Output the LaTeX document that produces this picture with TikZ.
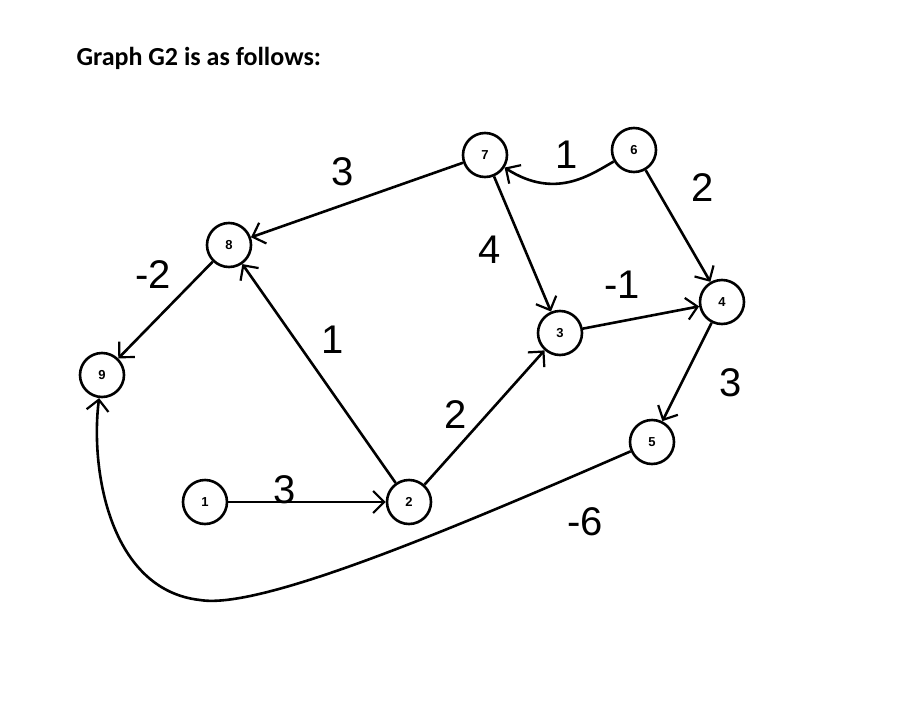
\documentclass[tikz,border=0pt]{standalone}
\usepackage{fontspec}
\setmainfont{Liberation Sans}
\newfontfamily\titlefont{Carlito}
\usetikzlibrary{arrows.meta}
\begin{document}
\begin{tikzpicture}[x=1pt,y=-1pt,
  vtx/.style={circle,draw,line width=2.6pt,minimum size=44pt,inner sep=0pt,font=\fontsize{13}{13}\selectfont\bfseries},
  edge/.style={line width=2.6pt,-{Straight Barb[length=11pt,width=22pt,line width=2.2pt]}},
  wlab/.style={font=\fontsize{40}{40}\selectfont}]
\useasboundingbox (0,0) rectangle (910,712);
\node[anchor=west,font=\titlefont\fontsize{26}{26}\selectfont\bfseries] (title) at (73,58) {Graph G2 is as follows:};
\node[vtx] (n7) at (485,155) {7};
\node[vtx] (n6) at (634,150) {6};
\node[vtx] (n8) at (229,245) {8};
\node[vtx] (n9) at (102,375) {9};
\node[vtx] (n4) at (722,302) {4};
\node[vtx] (n3) at (560,333) {3};
\node[vtx] (n5) at (652,442) {5};
\node[vtx] (n1) at (205,502) {1};
\node[vtx] (n2) at (409,502) {2};
\draw[edge] (n7) -- (n8);
\draw[edge] (n6) .. controls (590,175) and (555,200) .. (n7);
\draw[edge] (n6) -- (n4);
\draw[edge] (n7) -- (n3);
\draw[edge] (n3) -- (n4);
\draw[edge] (n8) -- (n9);
\draw[edge] (n2) -- (n8);
\draw[edge] (n2) -- (n3);
\draw[edge] (n1) -- (n2);
\draw[edge] (n4) -- (n5);
\draw[edge] (n5) .. controls (450,530) and (260,610) .. (200,600) .. controls (110,590) and (90,470) .. (n9);
\node[wlab] (l1) at (343,172) {3};
\node[wlab] (l2) at (567,155) {1};
\node[wlab] (l3) at (703,188) {2};
\node[wlab] (l4) at (490,250) {4};
\node[wlab] (l5) at (622,285) {-1};
\node[wlab] (l6) at (153,275) {-2};
\node[wlab] (l7) at (333,340) {1};
\node[wlab] (l8) at (456,415) {2};
\node[wlab] (l9) at (285,490) {3};
\node[wlab] (l10) at (731,383) {3};
\node[wlab] (l11) at (585,522) {-6};
\end{tikzpicture}
\end{document}
